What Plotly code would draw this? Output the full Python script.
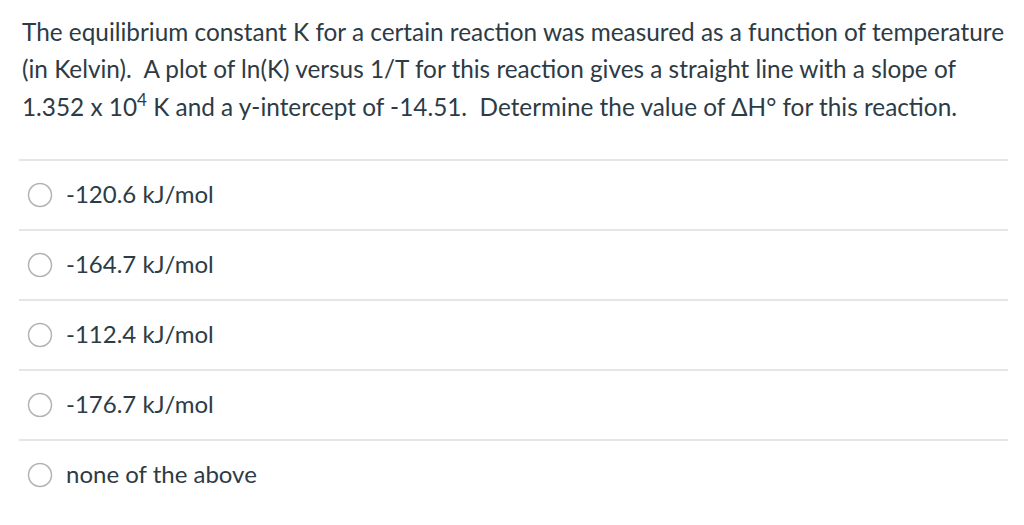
import plotly.graph_objects as go

# question text, one entry per rendered line
question_lines = [
    "The equilibrium constant K for a certain reaction was measured as a function of temperature",
    "(in Kelvin).  A plot of ln(K) versus 1/T for this reaction gives a straight line with a slope of",
    "1.352 x 10<sup>4</sup> K and a y-intercept of -14.51.  Determine the value of ΔH° for this reaction.",
]

# answer choices
choices = [
    "-120.6 kJ/mol",
    "-164.7 kJ/mol",
    "-112.4 kJ/mol",
    "-176.7 kJ/mol",
    "none of the above",
]

W, H = 1024, 525
off = 8  # page body margin in the browser
text_color = "#2d3b45"
font = "Lato, 'Open Sans', sans-serif"

q_top = 31.5
q_step = 36.5
row_top = 160
row_h = 70

choice_y = [row_top + row_h * (i + 0.5) for i in range(len(choices))]

fig = go.Figure()

# radio buttons
fig.add_trace(go.Scatter(
    x=[40] * len(choices),
    y=choice_y,
    mode="markers",
    marker=dict(size=23, color="white", line=dict(color="#b3b3b3", width=1.5)),
    hoverinfo="skip",
    showlegend=False,
))

for i, line in enumerate(question_lines):
    fig.add_annotation(
        x=20, y=q_top + q_step * i, text=line, showarrow=False,
        xanchor="left", yanchor="middle",
        font=dict(family=font, size=24.35, color=text_color),
    )

for i, c in enumerate(choices):
    fig.add_annotation(
        x=64, y=choice_y[i] - 2, text=c, showarrow=False,
        xanchor="left", yanchor="middle",
        font=dict(family=font, size=24, color=text_color),
    )
    # divider above each choice
    fig.add_shape(
        type="line", x0=19, x1=1008, y0=row_top + row_h * i, y1=row_top + row_h * i,
        line=dict(color="#dcdcdc", width=1.5),
    )

fig.update_layout(
    width=W, height=H,
    margin=dict(l=0, r=0, t=0, b=0),
    paper_bgcolor="white", plot_bgcolor="white",
    xaxis=dict(range=[off, W + off], visible=False, fixedrange=True),
    yaxis=dict(range=[H + off, off], visible=False, fixedrange=True),
)

fig.write_html("out.html")
